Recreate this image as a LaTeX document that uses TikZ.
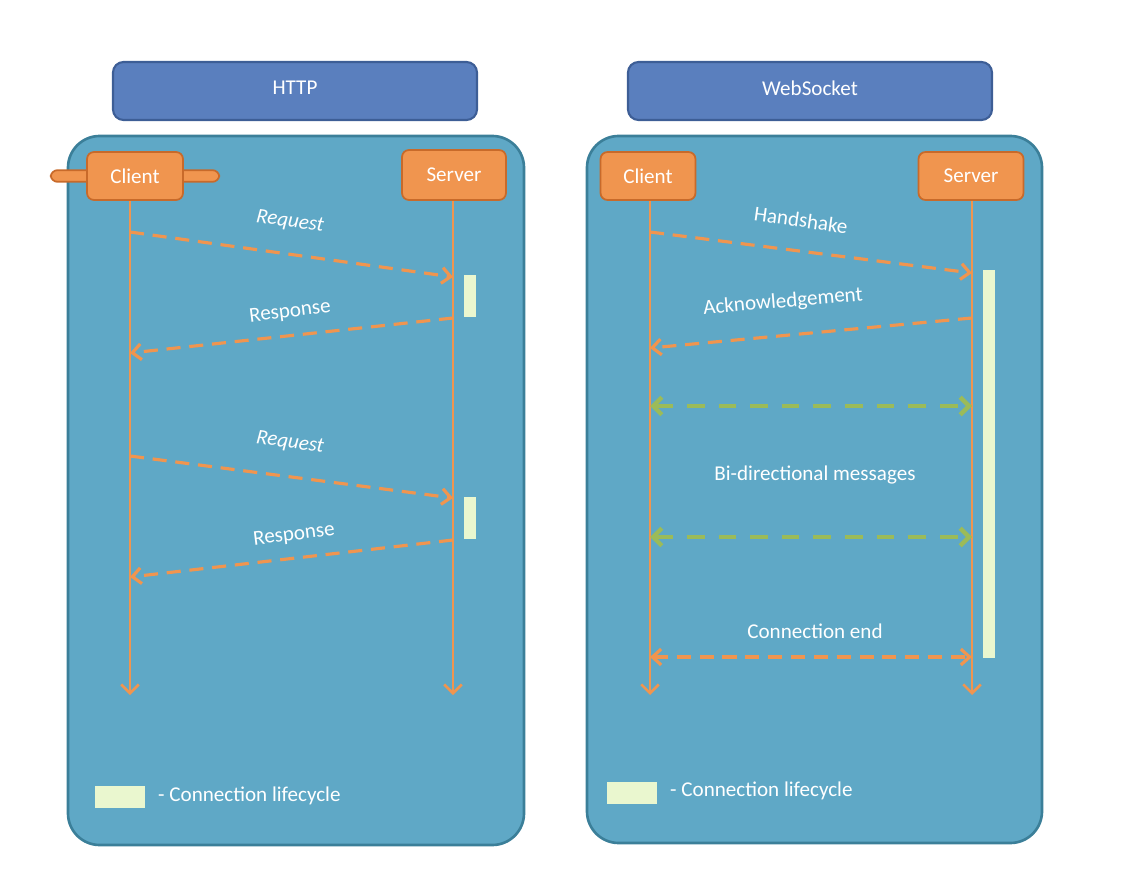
\documentclass[tikz,border=0pt]{standalone}
\usepackage{fontspec}
\setmainfont{Carlito}
\usetikzlibrary{arrows.meta}
\definecolor{hdrblue}{HTML}{5A7FBE}
\definecolor{hdredge}{HTML}{3D5E96}
\definecolor{panel}{HTML}{5FA8C6}
\definecolor{paneledge}{HTML}{3B7F99}
\definecolor{orng}{HTML}{F0954F}
\definecolor{orngedge}{HTML}{C86A2A}
\definecolor{life}{HTML}{EAF7CF}
\definecolor{grn}{HTML}{9BBB59}
\tikzset{
  header/.style={draw=hdredge,line width=1.2pt,fill=hdrblue,rounded corners=6pt},
  panelbox/.style={draw=paneledge,line width=1.5pt,fill=panel,rounded corners=18pt},
  actor/.style={draw=orngedge,line width=1pt,fill=orng,rounded corners=4pt,text=white,font=\large},
  lifeline/.style={draw=orng,line width=1.5pt,-{Straight Barb[length=5pt,width=10pt]}},
  msg/.style={draw=orng,line width=1.8pt,dash pattern=on 8pt off 5pt,-{Straight Barb[length=5pt,width=9pt]}},
  bimsg/.style={draw=grn,line width=2.5pt,dash pattern=on 10pt off 8pt,{Straight Barb[length=5pt,width=10pt]}-{Straight Barb[length=5pt,width=10pt]}},
  lbl/.style={text=white,font=\large},
  bar/.style={fill=life,draw=none}
}
\begin{document}
\begin{tikzpicture}[x=0.02cm,y=-0.02cm]
\useasboundingbox (0,0) rectangle (1125,885);

% headers
\draw[header] (113,62) rectangle (477,120);
\node[text=white,font=\large] (httph) at (295,88) {HTTP};
\draw[header] (628,62) rectangle (992,120);
\node[text=white,font=\large] (wsh) at (810,88) {WebSocket};

% panels
\draw[panelbox] (68,136) rectangle (524,845);
\draw[panelbox] (587,136) rectangle (1042,843);

% actors
\node[actor,minimum width=96\pgflinewidth] (hc) at (135,176) {};
\node[actor,minimum width=1.92cm,minimum height=0.96cm] (hclient) at (135,176) {Client};
\node[actor,minimum width=2.08cm,minimum height=1cm] (hserver) at (454,175) {Server};
\node[actor,minimum width=1.9cm,minimum height=0.96cm] (wclient) at (648,176) {Client};
\node[actor,minimum width=2.1cm,minimum height=0.96cm] (wserver) at (971,176) {Server};

% lifelines
\coordinate (hcend) at (130,695);
\coordinate (hsend) at (453,695);
\coordinate (wcend) at (650,695);
\coordinate (wsend) at (972,695);
\draw[lifeline] (hclient.south -| hcend) -- (hcend);
\draw[lifeline] (hserver.south -| hsend) -- (hsend);
\draw[lifeline] (wclient.south -| wcend) -- (wcend);
\draw[lifeline] (wserver.south -| wsend) -- (wsend);

% connection bars
\fill[bar] (464,275) rectangle (476,317);
\fill[bar] (464,497) rectangle (476,539);
\fill[bar] (983,270) rectangle (995,658);

% HTTP messages
\coordinate (r1a) at (130,232); \coordinate (r1b) at (453,277);
\coordinate (s1a) at (453,318); \coordinate (s1b) at (130,353);
\coordinate (r2a) at (130,456); \coordinate (r2b) at (453,498);
\coordinate (s2a) at (453,540); \coordinate (s2b) at (130,577);
\draw[msg] (r1a) -- (r1b);
\draw[msg] (s1a) -- (s1b);
\draw[msg] (r2a) -- (r2b);
\draw[msg] (s2a) -- (s2b);
\node[lbl,rotate=-8] (rq1) at (290,222) {\textit{Request}};
\node[lbl,rotate=7] (rs1) at (290,312) {Response};
\node[lbl,rotate=-8] (rq2) at (290,443) {\textit{Request}};
\node[lbl,rotate=7] (rs2) at (294,535) {Response};

% WebSocket messages
\coordinate (hsa) at (650,232); \coordinate (hsb) at (972,273);
\coordinate (aka) at (972,318); \coordinate (akb) at (650,348);
\coordinate (b1a) at (650,406); \coordinate (b1b) at (972,406);
\coordinate (b2a) at (650,537); \coordinate (b2b) at (972,537);
\coordinate (cea) at (650,657); \coordinate (ceb) at (972,657);
\draw[msg] (hsa) -- (hsb);
\draw[msg] (aka) -- (akb);
\draw[bimsg] (b1a) -- (b1b);
\draw[bimsg] (b2a) -- (b2b);
\draw[msg,{Straight Barb[length=5pt,width=9pt]}-{Straight Barb[length=5pt,width=9pt]}] (cea) -- (ceb);
\node[lbl,rotate=-8] (hs) at (801,220) {Handshake};
\node[lbl,rotate=5] (ak) at (783,302) {Acknowledgement};
\node[lbl] (bi) at (815,475) {Bi-directional messages};
\node[lbl] (ce) at (815,631) {Connection end};

% legends
\fill[bar] (95,786) rectangle (145,808);
\node[lbl,anchor=west] (hleg) at (152,796) {- Connection lifecycle};
\fill[bar] (607,782) rectangle (657,804);
\node[lbl,anchor=west] (wleg) at (664,791) {- Connection lifecycle};
\end{tikzpicture}
\end{document}
